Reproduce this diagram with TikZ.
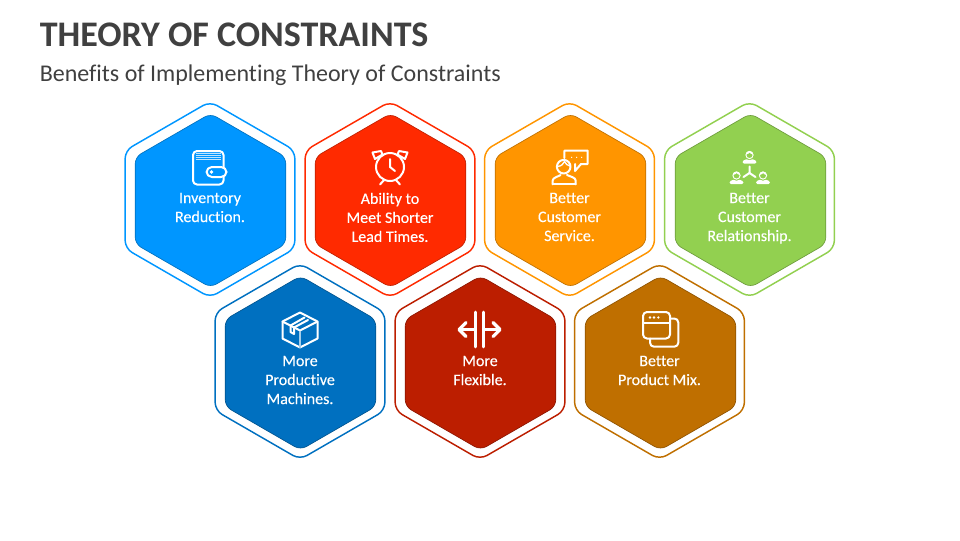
\documentclass[tikz,border=0pt]{standalone}
\definecolor{hexblue}{RGB}{0, 150, 255}
\definecolor{hexred}{RGB}{255, 42, 0}
\definecolor{hexorange}{RGB}{255, 149, 0}
\definecolor{hexgreen}{RGB}{146, 208, 80}
\definecolor{hexnavy}{RGB}{0, 112, 192}
\definecolor{hexcrimson}{RGB}{188, 30, 0}
\definecolor{hexbrown}{RGB}{191, 111, 0}
\definecolor{inkgray}{RGB}{64, 64, 64}
\usepackage{fontspec}
\setmainfont[Ligatures=NoCommon]{Carlito}
\newfontfamily\hexfont[Ligatures=NoCommon, FakeBold=0.25]{Carlito}
\usepackage{tikz}
\usetikzlibrary{shapes.geometric}

\tikzset{
  hexouter/.style={regular polygon, regular polygon sides=6, shape border rotate=30, minimum size=147pt, inner sep=0pt, outer sep=0pt, rounded corners=6pt, draw=#1, line width=1.1pt},
  hexinner/.style={regular polygon, regular polygon sides=6, shape border rotate=30, minimum size=130.4pt, inner sep=0pt, outer sep=0pt, rounded corners=5pt, fill=#1, draw=#1!75!black, line width=0.5pt},
  hextext/.style={anchor=north, align=center, inner sep=0pt, text=white, font=\hexfont\fontsize{12}{14.25}\selectfont},
  iconline/.style={draw=white, line width=1.5pt, line cap=round, line join=round},
  walletpic/.pic={
    \draw[iconline, rounded corners=3pt] (-17,-16) rectangle (13.5,17.5);
    \foreach \y in {-14,-12,-10,-8} \draw[white!75!hexblue, line width=0.7pt] (-14.5,\y) -- (10.5,\y);
    \draw[iconline, fill=hexblue, rounded corners=4pt] (-3.5,0) rectangle (16.5,10);
    \fill[white] (1.5,5) circle (1.9);
  },
  clockpic/.pic={
    \draw[iconline] (0,0) circle (14);
    \draw[iconline] (0,-8) -- (0,0) -- (5,4);
    \draw[iconline] (-17.5,-14.5) -- (-9,-16) -- (-7.5,-12.5) -- (-15,-8) -- cycle;
    \draw[iconline] (17.5,-14.5) -- (9,-16) -- (7.5,-12.5) -- (15,-8) -- cycle;
    \draw[iconline] (-10,17.5) -- (-5.5,12.5);
    \draw[iconline] (10,17.5) -- (5.5,12.5);
  },
  servicepic/.pic={
    \draw[iconline] (-5.2,-9) -- (-5.2,-16.3) -- (18.2,-16.3) -- (18.2,-3) -- (11.5,-3) -- (5.5,4) -- (5.5,-3);
    \foreach \x in {2.2,7.2,12.2} \fill[white] (\x,-9.7) circle (0.7);
    \draw[iconline] (-5.8,-0.3) circle (6.8);
    \draw[iconline, line width=1pt] (-12,-0.5) .. controls (-8,-1) and (-6,-3) .. (-5,-5.5) .. controls (-4,-3) and (-2,-1.5) .. (0.5,-1);
    \draw[iconline] (-16.8,17.3) -- (-16.8,13.5) .. controls (-16.8,10.5) and (-11,9.5) .. (-9,8);
    \draw[iconline] (6.2,17.3) -- (6.2,13.5) .. controls (6.2,10.5) and (0.5,9.5) .. (-2.5,8);
    \draw[iconline] (-16.8,17.3) -- (6.2,17.3);
  },
  workerpic/.pic={
    \draw[white, line width=0.7pt] (0,0) circle (3.6);
    \fill[white] (-3.6,-0.5) .. controls (-3.6,-5) and (3.6,-5) .. (3.6,-0.5) .. controls (1.5,-1) and (0.5,-1.5) .. (0,-2.5) .. controls (-0.5,-1.5) and (-1.5,-1) .. (-3.6,-0.5) -- cycle;
    \fill[white, rounded corners=1pt] (-7,8.5) -- (-7,5.8) -- (-2,3.8) -- (0,6) -- (2,3.8) -- (7,5.8) -- (7,8.5) -- cycle;
  },
  networkpic/.pic={
    \pic at (0,-12) {workerpic};
    \pic at (-13,8.5) {workerpic};
    \pic at (13.5,8.5) {workerpic};
    \draw[iconline] (0,-0.5) -- (0,6) -- (-6,10);
    \draw[iconline] (0,6) -- (6,10);
  },
  boxpic/.pic={
    \draw[iconline] (0,-17.5) -- (17.5,-8.5) -- (17.5,8.5) -- (0,17.5) -- (-17.5,8.5) -- (-17.5,-8.5) -- cycle;
    \draw[iconline] (-17.5,-8.5) -- (0,0.5) -- (17.5,-8.5);
    \draw[white!65!hexnavy, line width=1pt] (0,0.5) -- (0,17.5);
    \draw[iconline] (4.5,-12.5) -- (-9.5,-4.5) -- (-9.5,2) -- (-6,4) -- (-6,-2.5) -- (8,-10);
  },
  flexpic/.pic={
    \draw[iconline, line width=2.2pt] (-4.3,-17.5) -- (-4.3,17.5);
    \draw[iconline, line width=2.2pt] (4.3,-17.5) -- (4.3,17.5);
    \draw[iconline, line width=1.9pt] (-4.3,0) -- (-20,0);
    \draw[iconline, line width=1.9pt] (4.3,0) -- (20,0);
    \draw[iconline, line width=2.4pt] (-13.5,-7) -- (-20.5,0) -- (-13.5,7);
    \draw[iconline, line width=2.4pt] (13.5,-7) -- (20.5,0) -- (13.5,7);
  },
  windowpic/.pic={
    \draw[iconline, rounded corners=3pt] (-16.5,-18) rectangle (10.5,8.5);
    \draw[iconline] (-16.5,-7.5) -- (10.5,-7.5);
    \foreach \x in {-9.5,-5.5,-1.2} \fill[white] (\x,-12.5) circle (1.3);
    \draw[iconline, rounded corners=3pt] (10.5,-11.5) -- (18.8,-11.5) -- (18.8,16.7) -- (-9.5,16.7) -- (-9.5,8.5);
  },
}

\begin{document}
\begin{tikzpicture}[x=0.75pt, y=-0.75pt]
  \useasboundingbox (0, 0) rectangle (960, 540);

  \node[anchor=base west, inner sep=0pt, text=inkgray, font=\fontsize{27}{32}\selectfont\bfseries] (title) at (39.5, 46) {THEORY OF CONSTRAINTS};
  \node[anchor=base west, inner sep=0pt, text=inkgray, font=\fontsize{18}{22}\selectfont] (subtitle) at (39.5, 81) {Benefits of Implementing Theory of Constraints};

  \node[hexouter=hexblue] (inventoryout) at (210, 199.5) {};
  \node[hexinner=hexblue] (inventory) at (210.5, 200.5) {};
  \pic at (210, 167) {walletpic};
  \node[hextext] (inventorytext) at (210, 192.5) {Inventory\\Reduction.};

  \node[hexouter=hexred] (leadout) at (390, 199.5) {};
  \node[hexinner=hexred] (lead) at (390.5, 200.5) {};
  \pic at (390, 167) {clockpic};
  \node[hextext] (leadtext) at (390, 192.5) {Ability to\\Meet Shorter\\Lead Times.};

  \node[hexouter=hexorange] (serviceout) at (569.5, 199.5) {};
  \node[hexinner=hexorange] (service) at (570.5, 200.5) {};
  \pic at (569.5, 167) {servicepic};
  \node[hextext] (servicetext) at (569.5, 192.5) {Better\\Customer\\Service.};

  \node[hexouter=hexgreen] (relationout) at (749.5, 199.5) {};
  \node[hexinner=hexgreen] (relation) at (750.5, 200.5) {};
  \pic at (749.5, 167) {networkpic};
  \node[hextext] (relationtext) at (749.5, 192.5) {Better\\Customer\\Relationship.};

  \node[hexouter=hexnavy] (machinesout) at (300, 361.5) {};
  \node[hexinner=hexnavy] (machines) at (300.5, 363) {};
  \pic at (300, 330) {boxpic};
  \node[hextext] (machinestext) at (300, 355.5) {More\\Productive\\Machines.};

  \node[hexouter=hexcrimson] (flexibleout) at (480, 361.5) {};
  \node[hexinner=hexcrimson] (flexible) at (480.5, 363) {};
  \pic at (479.5, 329.5) {flexpic};
  \node[hextext] (flexibletext) at (480, 355.5) {More\\Flexible.};

  \node[hexouter=hexbrown] (productout) at (659.5, 361.5) {};
  \node[hexinner=hexbrown] (product) at (660.5, 363) {};
  \pic at (659.5, 330) {windowpic};
  \node[hextext] (producttext) at (659.5, 355.5) {Better\\Product Mix.};
\end{tikzpicture}
\end{document}
